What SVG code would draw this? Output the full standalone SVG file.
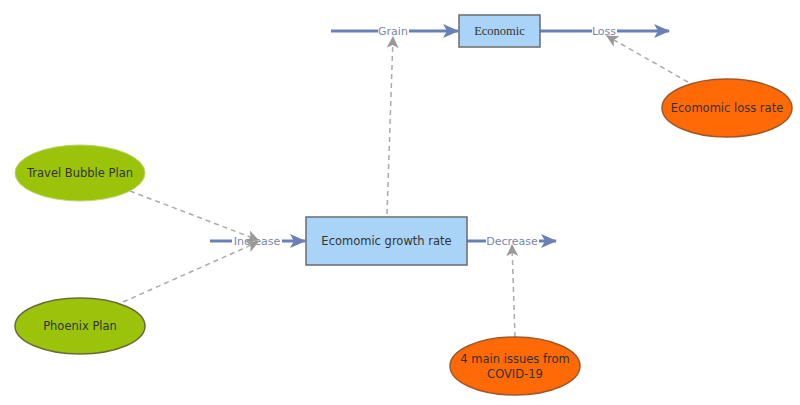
<svg xmlns="http://www.w3.org/2000/svg" width="800" height="405" viewBox="0 0 800 405">
<defs>
<marker id="flowArrow" viewBox="0 0 16 14" refX="15" refY="7" markerWidth="16" markerHeight="14" markerUnits="userSpaceOnUse" orient="auto">
<path d="M0,0 L16,7 L0,14 L4,7 Z" fill="#6a80b8"/>
</marker>
<marker id="dashArrow" viewBox="0 0 12 12" refX="11" refY="6" markerWidth="12" markerHeight="12" markerUnits="userSpaceOnUse" orient="auto">
<path d="M0,0 L12,6 L0,12 L3,6 Z" fill="#999"/>
</marker>
</defs>
<style>
.flow{stroke:#6a80b8;stroke-width:3;fill:none}
.dash{stroke:#aaa;stroke-width:1.5;stroke-dasharray:5,4;fill:none}
.box{fill:#aad4f7;stroke:#6b6b6b;stroke-width:1.5}
.green{fill:#9ac30a}
.orange{fill:#ff6a06;stroke:#a0582a;stroke-width:1.5}
.lbl{font-family:"DejaVu Sans",sans-serif;font-size:11px;fill:#7a86a8;text-anchor:middle;dominant-baseline:central}
.nt{font-family:"DejaVu Sans",sans-serif;font-size:11.5px;fill:#333;text-anchor:middle;dominant-baseline:central}
.serif{font-family:"Liberation Serif",serif;font-size:12.5px;fill:#333;text-anchor:middle;dominant-baseline:central}
.lblbg{fill:#fff}
</style>
<g id="connectors">
<path class="flow" d="M331,31 L458,31" marker-end="url(#flowArrow)"/>
<path class="flow" d="M540,31 L669,31" marker-end="url(#flowArrow)"/>
<path class="flow" d="M210,241 L305,241" marker-end="url(#flowArrow)"/>
<path class="flow" d="M467,241 L556,241" marker-end="url(#flowArrow)"/>
<rect class="lblbg" x="378" y="25" width="31" height="12"/>
<text class="lbl" x="393" y="31">Grain</text>
<rect class="lblbg" x="592" y="25" width="25" height="12"/>
<text class="lbl" x="604" y="31">Loss</text>
<rect class="lblbg" x="232" y="235" width="50" height="12"/>
<text class="lbl" x="257" y="241">Increase</text>
<rect class="lblbg" x="486" y="235" width="53" height="12"/>
<text class="lbl" x="512" y="241">Decrease</text>
<path class="dash" d="M387,214 L393,37" marker-end="url(#dashArrow)"/>
<path class="dash" d="M688,82 L607,36" marker-end="url(#dashArrow)"/>
<path class="dash" d="M130,191 L258,240" marker-end="url(#dashArrow)"/>
<path class="dash" d="M123,302 L258,242" marker-end="url(#dashArrow)"/>
<path class="dash" d="M515,337 L512,245" marker-end="url(#dashArrow)"/>
</g>
<g id="economic">
<rect class="box" x="459" y="15" width="81" height="32"/>
<text class="serif" x="499.5" y="31">Economic</text>
</g>
<g id="growth-rate">
<rect class="box" x="306" y="217" width="161" height="48"/>
<text class="nt" x="386.5" y="241">Ecomomic growth rate</text>
</g>
<g id="travel-bubble">
<ellipse class="green" cx="80" cy="173" rx="65" ry="28" stroke="#b9d46a" stroke-width="1"/>
<text class="nt" x="80" y="173">Travel Bubble Plan</text>
</g>
<g id="phoenix">
<ellipse class="green" cx="80" cy="326" rx="65" ry="28" stroke="#6b6b3a" stroke-width="1.5"/>
<text class="nt" x="80" y="326">Phoenix Plan</text>
</g>
<g id="loss-rate">
<ellipse class="orange" cx="727" cy="108" rx="65" ry="29"/>
<text class="nt" x="727" y="108">Ecomomic loss rate</text>
</g>
<g id="covid">
<ellipse class="orange" cx="515" cy="366" rx="65" ry="29"/>
<text class="nt" x="515" y="359">4 main issues from</text>
<text class="nt" x="515" y="374">COVID-19</text>
</g>
</svg>
